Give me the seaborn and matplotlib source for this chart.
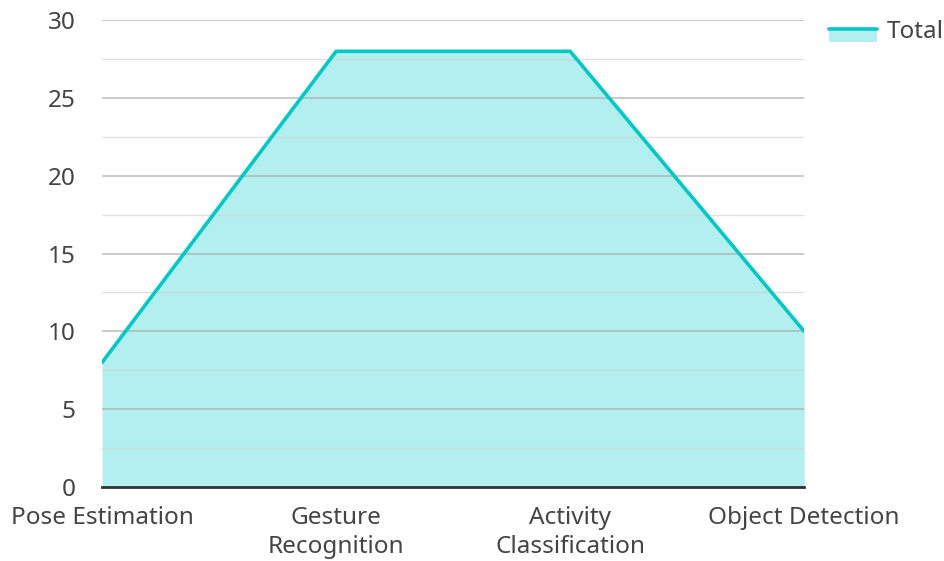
import matplotlib
matplotlib.use("Agg")
import matplotlib.pyplot as plt
import seaborn as sns
import pandas as pd
from matplotlib.legend_handler import HandlerBase
from matplotlib.patches import Rectangle
from matplotlib.lines import Line2D
from matplotlib.ticker import MultipleLocator

categories = ["Pose Estimation", "Gesture\nRecognition", "Activity\nClassification", "Object Detection"]
totals = [8, 28, 28, 10]
series_name = "Total"

line_color = "#00c9c6"
fill_color = "#b2efee"
text_color = "#444444"

sns.set_theme(style="white")
plt.rcParams["font.family"] = ["Noto Sans", "DejaVu Sans"]

df = pd.DataFrame({"pos": range(len(categories)), "value": totals})

fig = plt.figure(figsize=(9.45, 5.61), dpi=100)
ax = fig.add_axes([0.108, 0.132, 0.743, 0.832])

ax.fill_between(df["pos"], df["value"], 0, color=fill_color, linewidth=0, zorder=1)
sns.lineplot(data=df, x="pos", y="value", ax=ax, color=line_color, linewidth=2.6,
             zorder=3, legend=False)

ax.set_xlim(0, len(categories) - 1)
ax.set_ylim(0, 30)
ax.yaxis.set_major_locator(MultipleLocator(5))
ax.yaxis.set_minor_locator(MultipleLocator(2.5))
ax.grid(True, which="major", axis="y", color="#a8a8a8", alpha=0.7, linewidth=1.2, zorder=1.5)
ax.grid(True, which="minor", axis="y", color="#cfcfcf", alpha=0.6, linewidth=1.0, zorder=1.5)
ax.set_axisbelow("line")

ax.set_xticks(df["pos"])
ax.set_xticklabels(categories, linespacing=1.3)
ax.tick_params(axis="x", length=0, pad=13.5, labelsize=17.5, labelcolor=text_color)
ax.tick_params(axis="y", which="both", length=0, pad=19, labelsize=17.5, labelcolor=text_color)
ax.set_xlabel("")
ax.set_ylabel("")

for side in ["top", "right", "left"]:
    ax.spines[side].set_visible(False)
ax.spines["bottom"].set_color("#333333")
ax.spines["bottom"].set_linewidth(2)
ax.spines["bottom"].set_zorder(4)


class AreaLineHandler(HandlerBase):
    """Legend key for an area series: a filled band with its outline along the top."""

    def create_artists(self, legend, orig_handle, xdescent, ydescent, width, height, fontsize, trans):
        top = -ydescent + height * 0.55
        bottom = -ydescent - height * 0.35
        rect = Rectangle((-xdescent, bottom), width, top - bottom,
                         facecolor=fill_color, edgecolor="none", transform=trans)
        line = Line2D([-xdescent, -xdescent + width], [top, top], color=line_color,
                      linewidth=2.6, transform=trans)
        return [rect, line]


handle = Rectangle((0, 0), 1, 1)
fig.legend([handle], [series_name], handler_map={Rectangle: AreaLineHandler()},
           loc="upper left", bbox_to_anchor=(0.877, 0.964), frameon=False,
           fontsize=17.5, labelcolor=text_color, handlelength=2.0, handleheight=0.55,
           handletextpad=0.4, borderaxespad=0, borderpad=0)

fig.savefig("out.png", dpi=100)
